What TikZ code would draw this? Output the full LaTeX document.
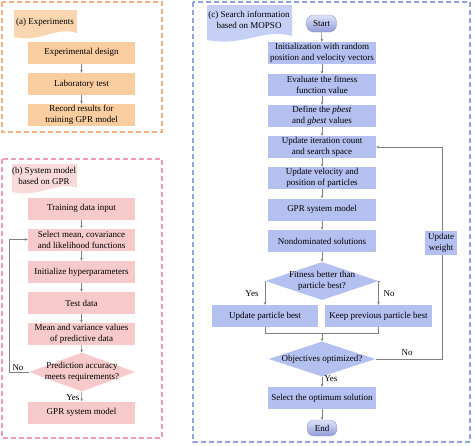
\documentclass[tikz,border=0pt]{standalone}
\usepackage{fontspec}
\setmainfont{Liberation Serif}
\usetikzlibrary{shapes.geometric,arrows.meta}
\definecolor{orbox}{HTML}{F9CDA0}
\definecolor{orlab}{HTML}{FAD6B0}
\definecolor{orframe}{HTML}{F4B183}
\definecolor{pkbox}{HTML}{F6CACA}
\definecolor{pklab}{HTML}{F9DADA}
\definecolor{pkframe}{HTML}{EE9CBE}
\definecolor{blbox}{HTML}{B4C0F0}
\definecolor{bllab}{HTML}{C6D0F6}
\definecolor{blframe}{HTML}{8FA2E6}
\definecolor{conn}{HTML}{808080}
\tikzset{
  txt/.style={font=\fontsize{9}{11}\selectfont, align=center},
  stepbox/.style={txt, rectangle, inner sep=0pt, minimum height=22pt},
  abox/.style={stepbox, fill=orbox, minimum width=107pt},
  bbox/.style={stepbox, fill=pkbox, minimum width=107pt},
  cbox/.style={stepbox, fill=blbox, minimum width=108pt},
  decis/.style={diamond, inner sep=0pt},
  pill/.style={txt, rounded corners=7pt, inner sep=0pt, minimum width=30pt, minimum height=17pt,
     top color=blbox!45!white, bottom color=blbox!90!blue!90!black, draw=blbox!80!black, line width=0.3pt},
  frame/.style={dash pattern=on 5pt off 3pt, line width=1.1pt},
  conn/.style={draw=conn, line width=0.6pt},
  arr/.style={conn, -{Stealth[length=3pt,width=2.6pt]}},
  lab/.style={txt, inner sep=0pt}
}
\begin{document}
\begin{tikzpicture}[x=1pt,y=-1pt]
\useasboundingbox (0,0) rectangle (474,445);
% frames
\draw[frame, orframe] (2,2) rectangle (162,132);
\draw[frame, pkframe] (2,159) rectangle (162,438);
\draw[frame, blframe] (193,2) rectangle (470,442);
% document labels
\fill[orlab] (14,10) -- (77,10) -- (77,33) .. controls (55,26) and (42,43) .. (14,37) -- cycle;
\node[lab, anchor=west] (la) at (16,22) {(a) Experiments};
\fill[pklab] (12,164) -- (77,164) -- (77,188) .. controls (55,181) and (42,198) .. (12,192) -- cycle;
\node[lab] (lb) at (44,176) {(b) System model\\based on GPR};
\fill[bllab] (207,5) -- (292,5) -- (292,36) .. controls (262,28) and (245,47) .. (207,40) -- cycle;
\node[lab] (lc) at (249,20) {(c) Search information\\based on MOPSO};

% column a
\node[abox] (a1) at (81.5,52.5) {Experimental design};
\node[abox] (a2) at (81.5,84) {Laboratory test};
\node[abox] (a3) at (81.5,115) {Record results for\\training GPR model};
\draw[arr] (a1) -- (a2);
\draw[arr] (a2) -- (a3);

% column b
\node[bbox] (b1) at (81.5,208.5) {Training data input};
\node[bbox] (b2) at (81.5,239.5) {Select mean, covariance\\and likelihood functions};
\node[bbox] (b3) at (81.5,272) {Initialize hyperparameters};
\node[bbox] (b4) at (81.5,303) {Test data};
\node[bbox] (b5) at (81.5,334) {Mean and variance values\\of predictive data};
\node[decis, fill=pkbox, minimum width=106pt, minimum height=39pt] (b6) at (82,372) {};
\node[txt] at (b6) {Prediction accuracy\\meets requirements?};
\node[bbox] (b7) at (81.5,412.5) {GPR system model};
\draw[arr] (b1) -- (b2);
\draw[arr] (b2) -- (b3);
\draw[arr] (b3) -- (b4);
\draw[arr] (b4) -- (b5);
\draw[arr] (b5) -- (b6);
\draw[arr] (b6) -- node[lab, left, xshift=-2pt, yshift=-1pt] {Yes} (b7);
\coordinate (bl) at (9,372);
\draw[arr] (b6.west) -- (bl) |- (b2.west);
\node[lab] (bno) at (18,368) {No};

% column c
\node[pill] (st) at (321.5,23.5) {Start};
\node[cbox] (c1) at (322,53) {Initialization with random\\position and velocity vectors};
\node[cbox] (c2) at (322,85) {Evaluate the fitness\\function value};
\node[cbox] (c3) at (322,116) {Define the \textit{pbest}\\and \textit{gbest} values};
\node[cbox] (c4) at (322,147) {Update iteration count\\and search space};
\node[cbox] (c5) at (322,178) {Update velocity and\\position of particles};
\node[cbox] (c6) at (322,209.5) {GPR system model};
\node[cbox] (c7) at (322,241) {Nondominated solutions};
\node[decis, fill=blbox, minimum width=113pt, minimum height=38pt] (c8) at (322,281) {};
\node[txt] at (c8) {Fitness better than\\particle best?};
\node[cbox, minimum width=106pt] (c9) at (265,316) {Update particle best};
\node[cbox, minimum width=107pt] (c10) at (378.5,316) {Keep previous particle best};
\node[decis, fill=blbox, minimum width=107pt, minimum height=35pt] (c11) at (322,359) {};
\node[txt] at (c11) {Objectives optimized?};
\node[cbox] (c12) at (322,398) {Select the optimum solution};
\node[pill, minimum height=16pt] (en) at (322,428) {End};
\draw[arr] (st) -- (c1);
\draw[arr] (c1) -- (c2);
\draw[arr] (c2) -- (c3);
\draw[arr] (c3) -- (c4);
\draw[arr] (c4) -- (c5);
\draw[arr] (c5) -- (c6);
\draw[arr] (c6) -- (c7);
\draw[arr] (c7) -- (c8);
\draw[arr] (c8.west) -| (c9.north);
\draw[arr] (c8.east) -| (c10.north);
\node[lab] (cy1) at (252,294) {Yes};
\node[lab] (cn1) at (389,294) {No};
\coordinate (mg) at (322,333);
\draw[conn] (c9.south) |- (mg);
\draw[conn] (c10.south) |- (mg);
\draw[arr] (mg) -- (c11.north);
\draw[arr] (c11.south) -- node[lab, right, xshift=2pt, yshift=3pt] {Yes} (c12);
\draw[arr] (c12) -- (en);
\coordinate (lr) at (442,359);
\coordinate (lt) at (442,147);
\draw[arr] (c11.east) -- (lr) -- (lt) -- (c4.east);
\node[lab] (cn2) at (407,353) {No};
\node[stepbox, fill=blbox, minimum width=32pt, minimum height=24pt] (uw) at (441,243) {Update\\weight};
\end{tikzpicture}
\end{document}
